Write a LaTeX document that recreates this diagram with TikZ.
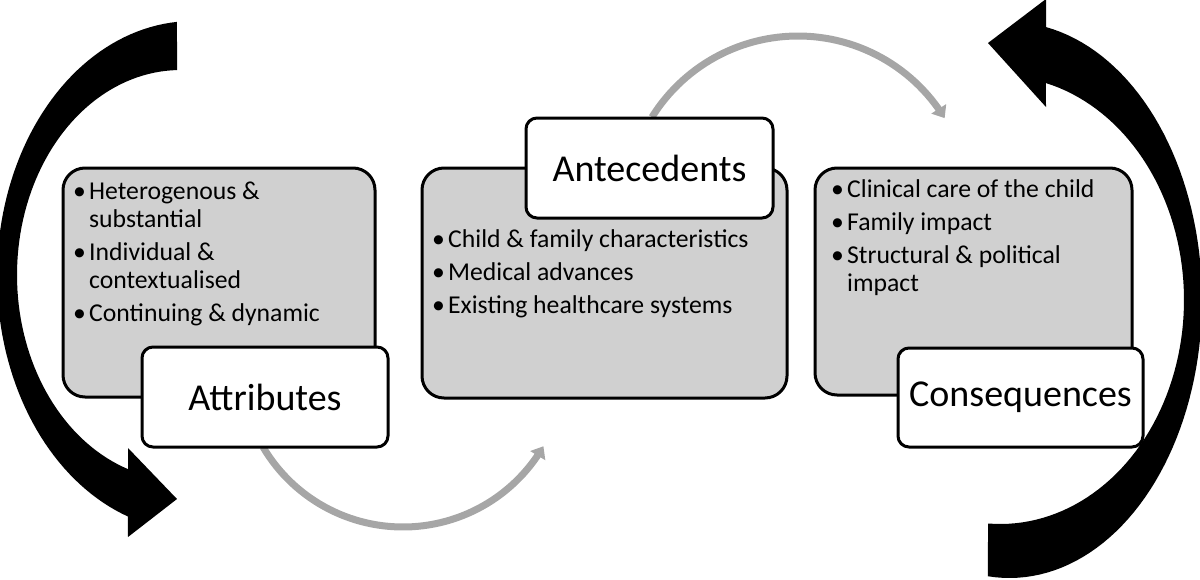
\documentclass[tikz,border=0pt]{standalone}
\usepackage{fontspec}
\setmainfont{Carlito}
\usetikzlibrary{arrows.meta}
\definecolor{boxgrey}{HTML}{D0D0D0}
\definecolor{arcgrey}{HTML}{A6A6A6}
\newcommand\bul{\makebox[16pt][l]{•}}
\newcommand\ind{\hspace*{16pt}}
\begin{document}
\begin{tikzpicture}[x=1pt,y=-1pt,
  greybox/.style={draw=black, line width=3pt, fill=boxgrey, rounded corners=22pt, inner sep=0pt},
  whitebox/.style={draw=black, line width=3pt, fill=white, rounded corners=11pt, inner sep=0pt,
    font=\fontsize{38}{42}\selectfont},
  listtext/.style={font=\fontsize{25.7}{28}\selectfont, inner sep=0pt, anchor=base west},
  greyarc/.style={draw=arcgrey, line width=7pt, -{Triangle[length=11pt,width=17pt]}},
  blackarrow/.style={fill=black}]
\useasboundingbox (0,0) rectangle (1200,579);

% grey connecting arcs (behind boxes)
\draw[greyarc] plot[domain=149.5:30.2, samples=60] ({403+162.5*cos(\x)},{364.5+162.5*sin(\x)});
\draw[greyarc] plot[domain=211.9:328.5, samples=60] ({798+172*cos(\x)},{208+172*sin(\x)});

% grey content boxes
\node[greybox, minimum width=312pt, minimum height=229pt] (attrbg) at (219,282.5) {};
\node[greybox, minimum width=365pt, minimum height=230pt] (antebg) at (604.5,283) {};
\node[greybox, minimum width=317pt, minimum height=227pt] (consbg) at (973.5,281.5) {};

% lists
\node[listtext] (attrlist) at (73,199) {\begin{tabular}[t]{@{}l@{}}
\bul Heterogenous \& \\
\ind substantial \\[5pt]
\bul Individual \& \\
\ind contextualised \\[5pt]
\bul Continuing \& dynamic
\end{tabular}};
\node[listtext] (antelist) at (432,247) {\begin{tabular}[t]{@{}l@{}}
\bul Child \& family characteristics \\[5pt]
\bul Medical advances \\[5pt]
\bul Existing healthcare systems
\end{tabular}};
\node[listtext] (conslist) at (831,197) {\begin{tabular}[t]{@{}l@{}}
\bul Clinical care of the child \\[5pt]
\bul Family impact \\[5pt]
\bul Structural \& political \\
\ind impact
\end{tabular}};

% white title boxes
\node[whitebox, minimum width=246pt, minimum height=100pt] (attr) at (265,397) {Attributes};
\node[whitebox, minimum width=247pt, minimum height=100pt] (ante) at (649.5,168) {Antecedents};
\node[whitebox, minimum width=245pt, minimum height=99pt] (cons) at (1020.5,397.5) {Consequences};

% black curved arrows
\fill[blackarrow]
  plot[domain=265.3:109.4, samples=80] ({193+196*cos(\x)},{276+255*sin(\x)})
  -- (128,537) -- (177,499) -- (128,448)
  -- plot[domain=108.7:268.8, samples=80] ({180.5+163.5*cos(\x)},{275+205*sin(\x)})
  -- cycle;
\fill[blackarrow]
  plot[domain=96.4:-79, samples=80] ({1009.4+192.6*cos(\x)},{300+278*sin(\x)})
  -- (1046,-1) -- (988,43) -- (1046,107)
  -- plot[domain=-75.6:93.8, samples=80] ({1000.2+183.8*cos(\x)},{300+224*sin(\x)})
  -- cycle;
\end{tikzpicture}
\end{document}
